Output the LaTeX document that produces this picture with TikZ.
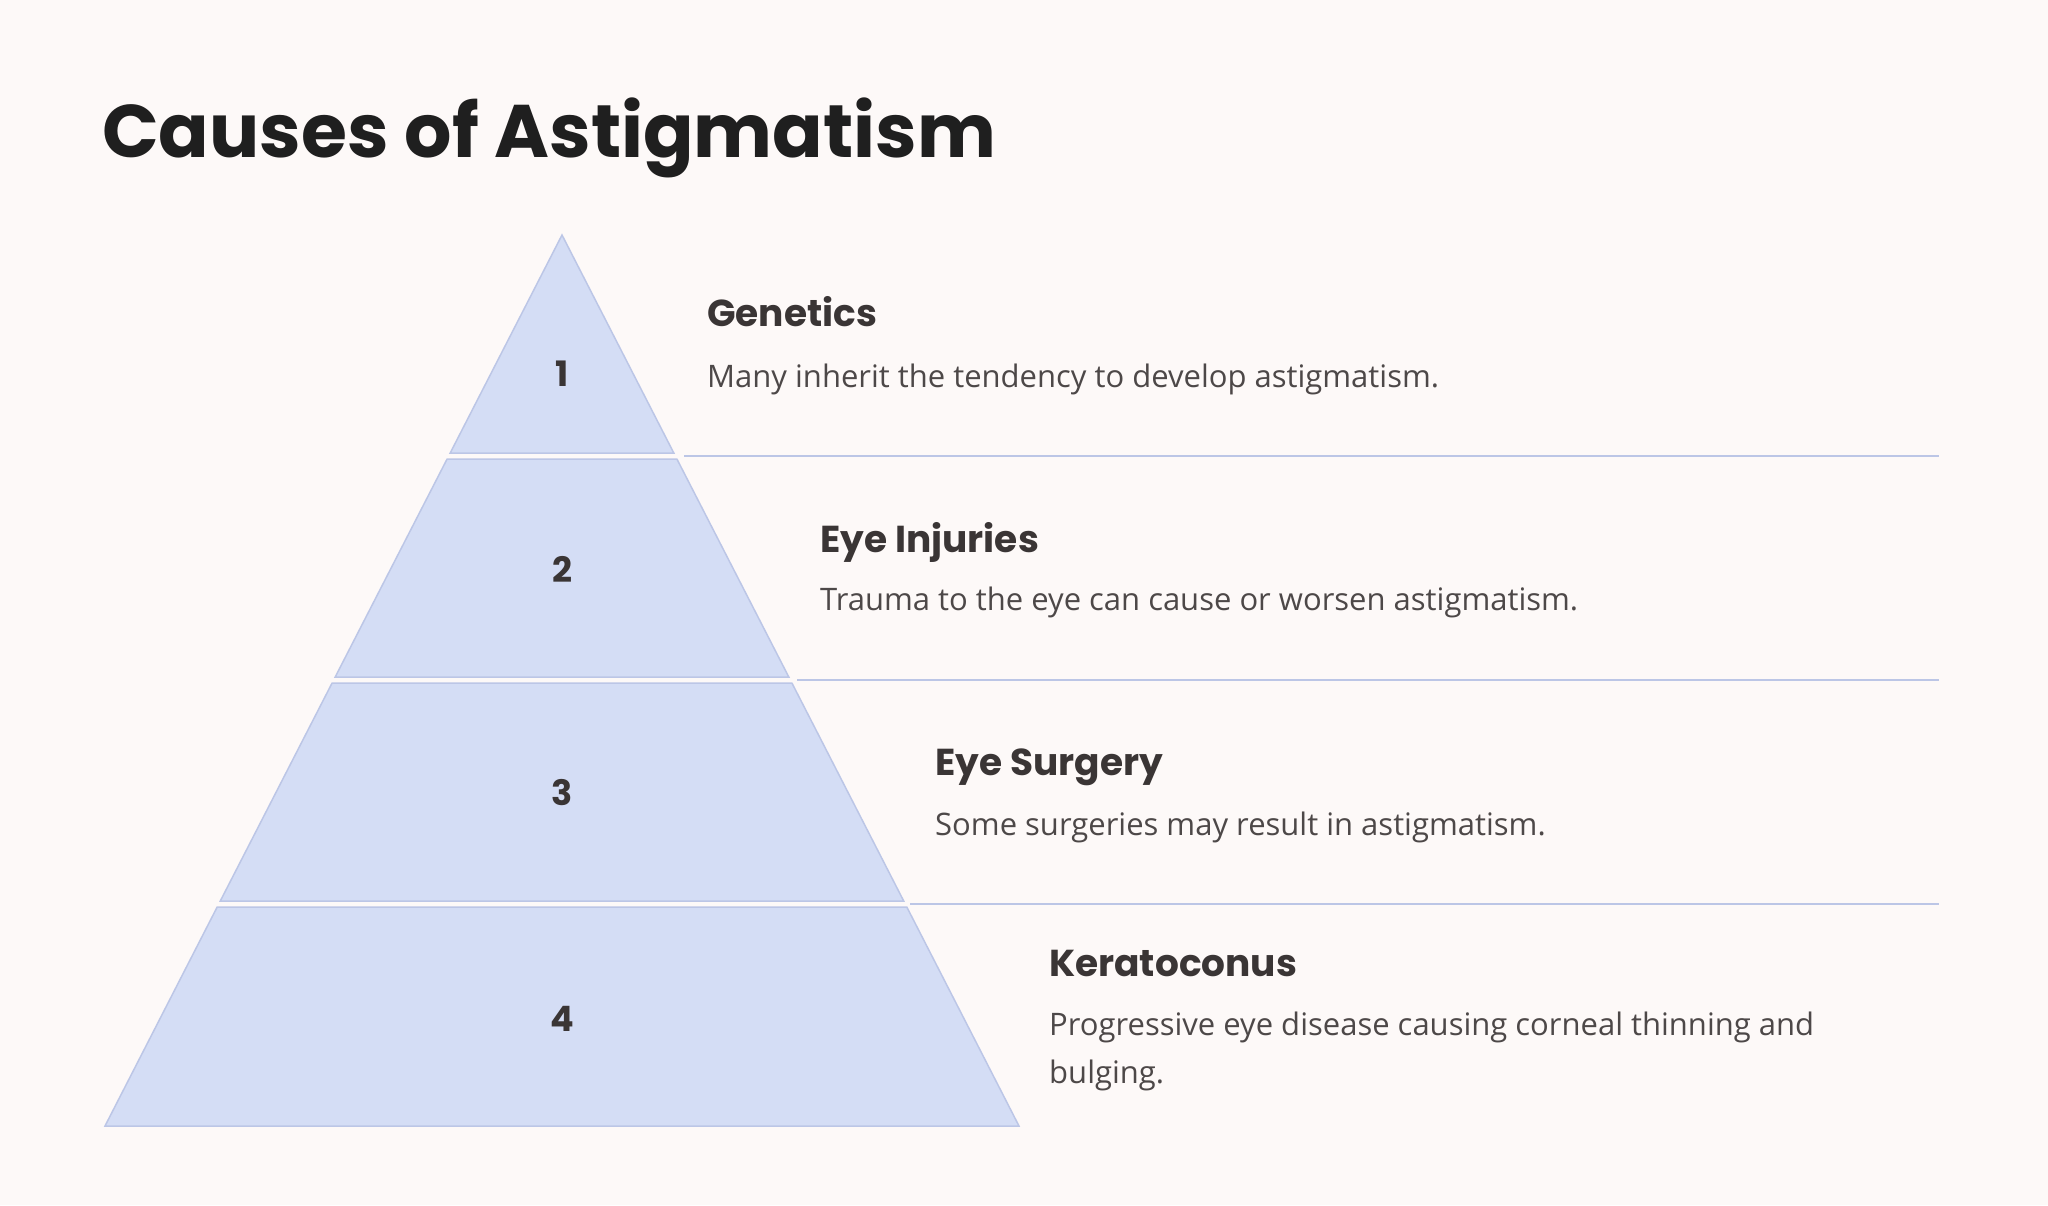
\documentclass[tikz,border=0pt]{standalone}
\usepackage{fontspec}
\setmainfont{Open Sans}
\newfontfamily\headfont{Poppins}
\definecolor{bgc}{HTML}{FDF9F8}
\definecolor{tierfill}{HTML}{D4DDF5}
\definecolor{tierline}{HTML}{BCC6E6}
\definecolor{titlec}{HTML}{1F1F1F}
\definecolor{headc}{HTML}{3A3535}
\definecolor{descc}{HTML}{4D4848}
\tikzset{
  tier/.style={fill=tierfill,draw=tierline,line width=1.5pt,line join=miter},
  sepline/.style={draw=tierline,line width=1.8pt},
  numtext/.style={font=\headfont\bfseries\fontsize{35}{40}\selectfont,text=headc,inner sep=0pt},
  headtext/.style={font=\headfont\bfseries\fontsize{37.5}{45}\selectfont,text=headc,anchor=base west,inner sep=0pt},
  desctext/.style={font=\fontsize{31}{48}\selectfont,text=descc,anchor=base west,inner sep=0pt,align=left},
}
\begin{document}
\begin{tikzpicture}[x=1pt,y=-1pt]
\fill[bgc] (0,0) rectangle (2048,1205);
\useasboundingbox (0,0) rectangle (2048,1205);
\node[anchor=base west,inner sep=0pt,text=titlec,font=\headfont\bfseries\fontsize{74.5}{90}\selectfont] (title) at (102,157) {Causes of Astigmatism};
% tiers
\path[tier] (562,235) -- (673.8,453) -- (450.2,453) -- cycle;
\path[tier] (447.1,459) -- (676.9,459) -- (788.8,677) -- (335.2,677) -- cycle;
\path[tier] (332.1,683) -- (791.9,683) -- (903.7,901) -- (220.3,901) -- cycle;
\path[tier] (217.2,907) -- (906.8,907) -- (1019,1126) -- (105,1126) -- cycle;
\node[numtext] (n1) at (562,374) {1};
\node[numtext] (n2) at (562,569) {2};
\node[numtext] (n3) at (562,793) {3};
\node[numtext] (n4) at (562,1019) {4};
% separators
\coordinate (s1a) at (684,456); \coordinate (s1b) at (1939,456);
\coordinate (s2a) at (797,680); \coordinate (s2b) at (1939,680);
\coordinate (s3a) at (910,904); \coordinate (s3b) at (1939,904);
\draw[sepline] (s1a) -- (s1b);
\draw[sepline] (s2a) -- (s2b);
\draw[sepline] (s3a) -- (s3b);
% texts
\node[headtext] (h1) at (707,326) {Genetics};
\node[desctext] (d1) at (707,387) {Many inherit the tendency to develop astigmatism.};
\node[headtext] (h2) at (820,552) {Eye Injuries};
\node[desctext] (d2) at (820,610) {Trauma to the eye can cause or worsen astigmatism.};
\node[headtext] (h3) at (935,775) {Eye Surgery};
\node[desctext] (d3) at (935,835) {Some surgeries may result in astigmatism.};
\node[headtext] (h4) at (1049,976) {Keratoconus};
\node[desctext] (d4) at (1049,1083) {Progressive eye disease causing corneal thinning and\\bulging.};
\end{tikzpicture}
\end{document}
